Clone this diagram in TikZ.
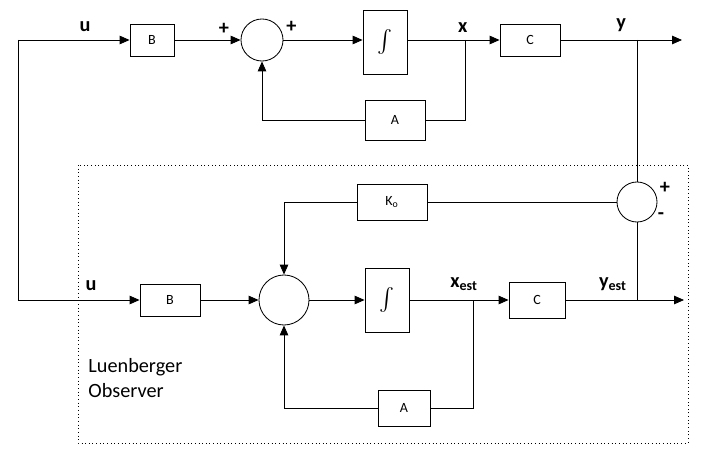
\documentclass[tikz,border=0pt]{standalone}
\usepackage{fontspec}
\setmainfont{Carlito}
\usetikzlibrary{arrows.meta}
\tikzset{
  blk/.style={draw, minimum width=#1, minimum height=0.8cm, inner sep=0pt, font=\normalsize},
  blk/.default=1.4cm,
  sum/.style={draw, circle, minimum size=1.05cm, inner sep=0pt},
  sig/.style={-{Triangle[length=7pt,width=6pt]}},
  lbl/.style={font=\Large\bfseries}
}
\newcommand{\intg}{\scalebox{1.6}{\Large$\int$}}
\begin{document}
\begin{tikzpicture}[x=0.025cm,y=-0.025cm, line width=0.6pt]
  \useasboundingbox (0,0) rectangle (703,453);
  % plant
  \node[blk=1.1cm] (b1) at (152,40) {B};
  \node[sum] (s1) at (262,40) {};
  \node[blk=1.1cm, minimum height=1.6cm] (i1) at (385,42) {\intg};
  \node[blk=1.5cm] (c1) at (530,40) {C};
  \node[blk=1.5cm, minimum height=1cm] (a1) at (395,120) {A};
  \coordinate (uin) at (18,40);
  \coordinate (yout) at (682,40);
  \coordinate (xtap) at (465,40);
  \coordinate (ytap) at (637,40);
  \draw[sig] (uin) -- (b1) node[lbl, pos=0.6, above=2pt] {u};
  \draw[sig] (b1) -- (s1) node[lbl, pos=0.75, above] {+};
  \draw[sig] (s1) -- (i1.west|-s1) node[lbl, pos=0.1, above=2pt] {+};
  \draw[sig] (i1.east|-s1) -- (c1) node[lbl, pos=0.6, above=2pt] {x};
  \draw[sig] (c1) -- (yout) node[lbl, pos=0.5, above=2pt] {y};
  \draw (xtap) |- (a1);
  \draw[sig] (a1) -| (s1);
  % observer
  \draw[dotted] (78,165) rectangle (688,443);
  \node[sum, minimum size=1cm] (s2) at (637,202) {};
  \node[lbl] at (665,188) {+};
  \node[lbl] at (661,216) {-};
  \node[blk=1.75cm, minimum height=0.9cm] (ko) at (392,202) {K\textsubscript{o}};
  \node[sum, minimum size=1.25cm] (s3) at (284,300) {};
  \node[blk=1.5cm] (b2) at (170,300) {B};
  \node[blk=1.1cm, minimum height=1.6cm] (i2) at (387,300) {\intg};
  \node[blk=1.4cm, minimum height=0.9cm] (c2) at (537,300) {C};
  \node[blk=1.3cm, minimum height=0.9cm] (a2) at (404,408) {A};
  \coordinate (ubot) at (18,300);
  \coordinate (yest) at (684,300);
  \coordinate (xetap) at (473,300);
  \draw (uin) -- (ubot);
  \draw[sig] (ubot) -- (b2) node[lbl, pos=0.6, above=3pt] {u};
  \draw[sig] (b2) -- (s3);
  \draw[sig] (s3) -- (i2);
  \draw[sig] (i2) -- (c2) node[lbl, pos=0.55, above=3pt] {x\textsubscript{est}};
  \draw[sig] (c2) -- (yest) node[lbl, pos=0.4, above=3pt] {y\textsubscript{est}};
  \draw (ytap) -- (s2);
  \draw (s2) -- (s2|-yest);
  \draw (s2) -- (ko);
  \draw[sig] (ko) -| (s3);
  \draw (xetap) |- (a2);
  \draw[sig] (a2) -| (s3);
  \node[font=\Large, align=left, anchor=north west, inner sep=0pt] (obs) at (88,358) {Luenberger\\Observer};
\end{tikzpicture}
\end{document}
